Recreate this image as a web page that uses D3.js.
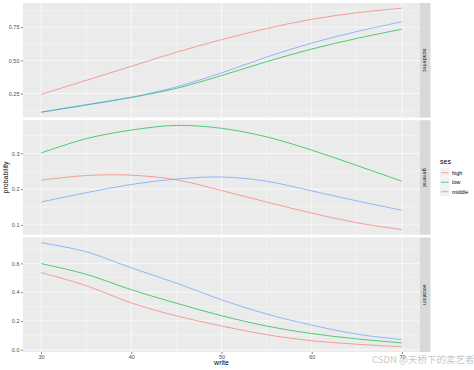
<!DOCTYPE html>
<html>
<head>
<meta charset="utf-8">
<script src="https://cdnjs.cloudflare.com/ajax/libs/d3/7.8.5/d3.min.js"></script>
<style>
body { margin: 0; background: #fff; }
text { font-family: "Liberation Sans", Arial, sans-serif; }
</style>
</head>
<body>
<div id="chart"></div>
<script>
// write scores on the x axis
let writeVals = [30, 35, 40, 45, 50, 55, 60, 65, 70];
let programs = ["academic", "general", "vocation"];
let sesLevels = ["high", "low", "middle"];
let sesColors = ["#F8766D", "#00BA38", "#619CFF"];

// predicted probabilities
let academicHigh = [0.243, 0.349, 0.455, 0.561, 0.656, 0.740, 0.809, 0.859, 0.893];
let academicLow = [0.108, 0.163, 0.220, 0.289, 0.385, 0.490, 0.585, 0.665, 0.735];
let academicMiddle = [0.110, 0.166, 0.222, 0.300, 0.405, 0.525, 0.630, 0.717, 0.791];

let generalHigh = [0.225, 0.238, 0.239, 0.226, 0.196, 0.164, 0.133, 0.106, 0.087];
let generalLow = [0.301, 0.341, 0.365, 0.378, 0.370, 0.346, 0.309, 0.266, 0.222];
let generalMiddle = [0.164, 0.190, 0.213, 0.228, 0.234, 0.222, 0.195, 0.167, 0.141];

let vocationHigh = [0.536, 0.445, 0.325, 0.235, 0.165, 0.104, 0.062, 0.038, 0.020];
let vocationLow = [0.599, 0.524, 0.417, 0.323, 0.236, 0.164, 0.112, 0.075, 0.047];
let vocationMiddle = [0.744, 0.681, 0.569, 0.463, 0.347, 0.248, 0.171, 0.108, 0.070];

// axis ticks
let xTicks = [30, 40, 50, 60, 70];
let xMinor = [35, 45, 55, 65];
let yTicks = [[0.25, 0.50, 0.75], [0.1, 0.2, 0.3], [0.0, 0.2, 0.4, 0.6]];
let yMinor = [[0.125, 0.375, 0.625, 0.875], [0.15, 0.25, 0.35], [0.1, 0.3, 0.5, 0.7]];
let yFormats = [".2f", ".1f", ".1f"];

let panelData = [
    [academicHigh, academicLow, academicMiddle],
    [generalHigh, generalLow, generalMiddle],
    [vocationHigh, vocationLow, vocationMiddle]
];

let width = 474;
let height = 370;
let panelLeft = 23;
let panelRight = 420;
let panelTop = 3;
let panelBottom = 352;
let panelGap = 2.7;
let panelH = (panelBottom - panelTop - 2 * panelGap) / 3;
let stripW = 10.5;

let svg = d3
    .select("#chart")
    .append("svg")
    .attr("width", width)
    .attr("height", height);

// x scale with ggplot's 5% expansion
let xSpan = d3.max(writeVals) - d3.min(writeVals);
let xScale = d3
    .scaleLinear()
    .domain([d3.min(writeVals) - xSpan * 0.05, d3.max(writeVals) + xSpan * 0.05])
    .range([panelLeft, panelRight]);

let lineColor = d3.scaleOrdinal().domain(sesLevels).range(sesColors);

programs.forEach(function(prog, i) {
    let top = panelTop + i * (panelH + panelGap);
    let bottom = top + panelH;
    let all = d3.merge(panelData[i]);
    let yMin = d3.min(all);
    let yMax = d3.max(all);
    let pad = (yMax - yMin) * 0.05;
    let yScale = d3
        .scaleLinear()
        .domain([yMin - pad, yMax + pad])
        .range([bottom, top]);

    let g = svg.append("g").attr("class", "panel");

    g.append("rect")
        .attr("x", panelLeft)
        .attr("y", top)
        .attr("width", panelRight - panelLeft)
        .attr("height", panelH)
        .attr("fill", "#EBEBEB");

    // minor grid
    g.selectAll(".hminor")
        .data(yMinor[i].filter(function(v) { return yScale(v) > top && yScale(v) < bottom; }))
        .enter()
        .append("line")
        .attr("x1", panelLeft)
        .attr("x2", panelRight)
        .attr("y1", function(d) { return yScale(d); })
        .attr("y2", function(d) { return yScale(d); })
        .attr("stroke", "#fff")
        .attr("stroke-width", 0.35);
    g.selectAll(".vminor")
        .data(xMinor)
        .enter()
        .append("line")
        .attr("x1", function(d) { return xScale(d); })
        .attr("x2", function(d) { return xScale(d); })
        .attr("y1", top)
        .attr("y2", bottom)
        .attr("stroke", "#fff")
        .attr("stroke-width", 0.35);

    // major grid
    g.selectAll(".hmajor")
        .data(yTicks[i])
        .enter()
        .append("line")
        .attr("x1", panelLeft)
        .attr("x2", panelRight)
        .attr("y1", function(d) { return yScale(d); })
        .attr("y2", function(d) { return yScale(d); })
        .attr("stroke", "#fff")
        .attr("stroke-width", 0.7);
    g.selectAll(".vmajor")
        .data(xTicks)
        .enter()
        .append("line")
        .attr("x1", function(d) { return xScale(d); })
        .attr("x2", function(d) { return xScale(d); })
        .attr("y1", top)
        .attr("y2", bottom)
        .attr("stroke", "#fff")
        .attr("stroke-width", 0.7);

    // lines
    let line = d3
        .line()
        .x(function(d) { return xScale(d[0]); })
        .y(function(d) { return yScale(d[1]); })
        .curve(d3.curveCatmullRom.alpha(0.5));

    panelData[i].forEach(function(series, j) {
        g.append("path")
            .datum(d3.zip(writeVals, series))
            .attr("d", line)
            .attr("fill", "none")
            .attr("stroke", lineColor(sesLevels[j]))
            .attr("stroke-opacity", 0.75)
            .attr("stroke-width", 0.9);
    });

    // y axis
    let yAxis = d3
        .axisLeft(yScale)
        .tickValues(yTicks[i])
        .tickFormat(d3.format(yFormats[i]))
        .tickSize(2)
        .tickPadding(1.5);
    let ya = svg.append("g")
        .attr("transform", "translate(" + panelLeft + ",0)")
        .call(yAxis);
    ya.select(".domain").remove();
    ya.selectAll("line").attr("stroke", "#333").attr("stroke-width", 0.6);
    ya.selectAll("text")
        .attr("fill", "#4D4D4D")
        .attr("font-size", 5.5)
        .style("font-family", "'Liberation Sans', Arial, sans-serif");

    // strip
    svg.append("rect")
        .attr("x", panelRight)
        .attr("y", top)
        .attr("width", stripW)
        .attr("height", panelH)
        .attr("fill", "#D9D9D9");
    svg.append("text")
        .attr("transform", "translate(" + (panelRight + stripW / 2) + "," + (top + panelH / 2) + ")rotate(90)")
        .attr("text-anchor", "middle")
        .attr("dy", "0.35em")
        .attr("font-size", 5.5)
        .attr("fill", "#1A1A1A")
        .text(prog);
});

// x axis under the bottom panel
let xAxis = d3
    .axisBottom(xScale)
    .tickValues(xTicks)
    .tickSize(2)
    .tickPadding(1.5);
let xa = svg.append("g")
    .attr("transform", "translate(0," + panelBottom + ")")
    .call(xAxis);
xa.select(".domain").remove();
xa.selectAll("line").attr("stroke", "#333").attr("stroke-width", 0.6);
xa.selectAll("text")
    .attr("fill", "#4D4D4D")
    .attr("font-size", 5.5)
    .style("font-family", "'Liberation Sans', Arial, sans-serif");

// axis titles
svg.append("text")
    .attr("x", (panelLeft + panelRight) / 2)
    .attr("y", 365)
    .attr("text-anchor", "middle")
    .attr("font-size", 7)
    .attr("fill", "#000")
    .text("write");
svg.append("text")
    .attr("transform", "translate(8," + (panelTop + panelBottom) / 2 + ")rotate(-90)")
    .attr("text-anchor", "middle")
    .attr("font-size", 7)
    .attr("fill", "#000")
    .text("probability");

// legend
let legend = svg.append("g").attr("transform", "translate(440,156)");
legend.append("text")
    .attr("x", 0)
    .attr("y", 8)
    .attr("font-size", 7)
    .attr("fill", "#000")
    .text("ses");
let keys = legend.selectAll(".key")
    .data(sesLevels)
    .enter()
    .append("g")
    .attr("transform", function(d, k) { return "translate(0," + (12 + k * 9.5) + ")"; });
keys.append("rect")
    .attr("width", 9.5)
    .attr("height", 9.5)
    .attr("fill", "#F2F2F2");
keys.append("line")
    .attr("x1", 1)
    .attr("x2", 8.5)
    .attr("y1", 4.75)
    .attr("y2", 4.75)
    .attr("stroke", function(d) { return lineColor(d); })
    .attr("stroke-opacity", 0.75)
    .attr("stroke-width", 0.9);
keys.append("text")
    .attr("x", 12)
    .attr("y", 4.75)
    .attr("dy", "0.35em")
    .attr("font-size", 5.5)
    .attr("fill", "#000")
    .text(function(d) { return d; });

// watermark
svg.append("text")
    .attr("x", 372)
    .attr("y", 363)
    .attr("font-size", 9.5)
    .attr("fill", "#C8C8C8")
    .style("font-family", "'Noto Sans CJK SC', sans-serif")
    .text("CSDN @天桥下的卖艺者");
</script>
</body>
</html>
